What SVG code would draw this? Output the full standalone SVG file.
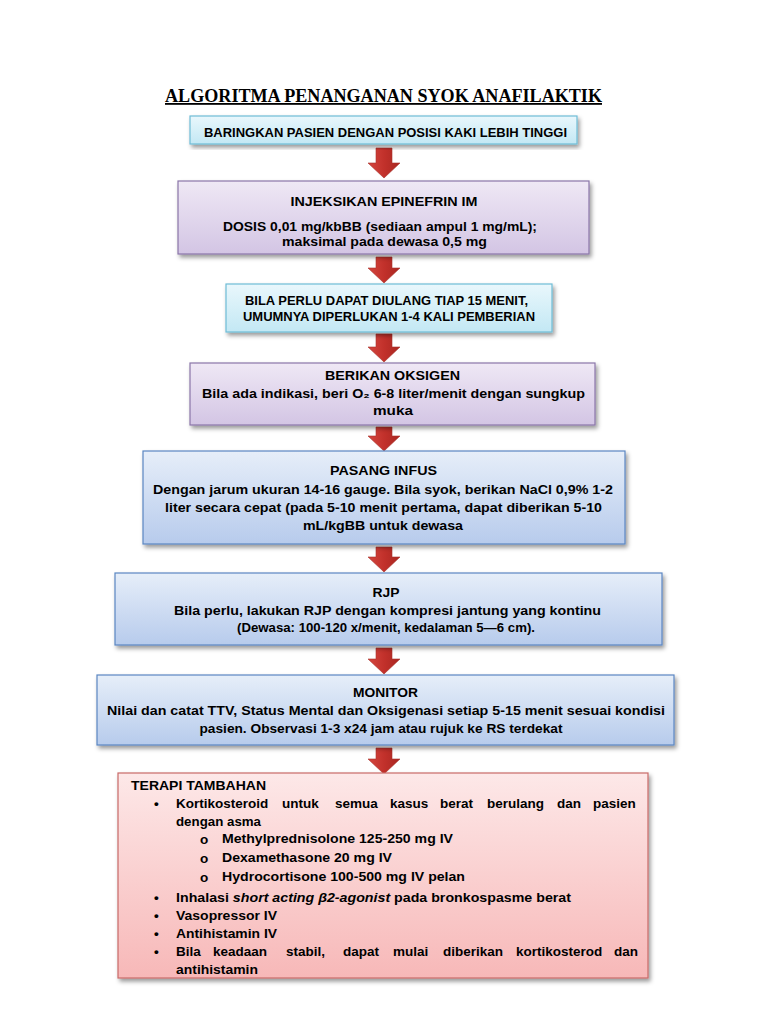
<svg xmlns="http://www.w3.org/2000/svg" width="768" height="1024" viewBox="0 0 768 1024">
<defs>
<style>
.t{font-family:"Liberation Sans",Arial,sans-serif;font-weight:bold;font-size:13.5px;fill:#000}
.c{text-anchor:middle}
.ti{font-family:"Liberation Serif","Times New Roman",serif;font-weight:bold;font-size:18px;fill:#000}
.cy{fill:url(#gCy);stroke:#6fbcd6;stroke-width:1.2}
.lv{fill:url(#gLv);stroke:#8a76a8;stroke-width:1.2}
.bl{fill:url(#gBl);stroke:#5a86c2;stroke-width:1.2}
.pk{fill:url(#gPk);stroke:#c96a68;stroke-width:1.2}
.ar{fill:url(#gAr);stroke:#a8322c;stroke-width:0.6}
</style>
<linearGradient id="gCy" x1="0" y1="0" x2="0" y2="1"><stop offset="0" stop-color="#e9f7fc"/><stop offset="1" stop-color="#c3e8f4"/></linearGradient>
<linearGradient id="gLv" x1="0" y1="0" x2="0" y2="1"><stop offset="0" stop-color="#efe8f5"/><stop offset="1" stop-color="#d3c5e4"/></linearGradient>
<linearGradient id="gBl" x1="0" y1="0" x2="0" y2="1"><stop offset="0" stop-color="#e6eef9"/><stop offset="1" stop-color="#b7cbec"/></linearGradient>
<linearGradient id="gPk" x1="0" y1="0" x2="0" y2="1"><stop offset="0" stop-color="#fde8e8"/><stop offset="1" stop-color="#f7b8b8"/></linearGradient>
<linearGradient id="gAr" x1="0" y1="0" x2="1" y2="0"><stop offset="0" stop-color="#d4463f"/><stop offset="0.5" stop-color="#c2312b"/><stop offset="1" stop-color="#a92620"/></linearGradient>
<filter id="sh" x="-5%" y="-10%" width="110%" height="130%"><feDropShadow dx="2" dy="3" stdDeviation="2" flood-color="#000" flood-opacity="0.4"/></filter>
</defs>
<rect width="768" height="1024" fill="#fff"/>

<text class="ti" x="165" y="102" textLength="437" lengthAdjust="spacingAndGlyphs" text-decoration="underline">ALGORITMA PENANGANAN SYOK ANAFILAKTIK</text>

<g id="connectors">
<path class="ar" d="M376,148 H392 V163 H400 L384,178 L368,163 H376 Z"/>
<path class="ar" d="M376,257 H392 V268 H400 L384,283 L368,268 H376 Z"/>
<path class="ar" d="M376,334 H392 V347 H400 L384,362 L368,347 H376 Z"/>
<path class="ar" d="M376,427 H392 V436 H400 L384,451 L368,436 H376 Z"/>
<path class="ar" d="M376,547 H392 V557 H400 L384,572 L368,557 H376 Z"/>
<path class="ar" d="M376,648 H392 V659 H400 L384,674 L368,659 H376 Z"/>
<path class="ar" d="M376,748 H392 V759 H400 L384,774 L368,759 H376 Z"/>
</g>

<g id="n1">
<rect class="cy" x="190" y="116" width="387" height="28" filter="url(#sh)"/>
<text class="t c" x="385.5" y="136.5" textLength="363" lengthAdjust="spacingAndGlyphs">BARINGKAN PASIEN DENGAN POSISI KAKI LEBIH TINGGI</text>
</g>

<g id="n2">
<rect class="lv" x="178" y="181" width="411" height="73" filter="url(#sh)"/>
<text class="t c" x="384" y="205.5" textLength="187" lengthAdjust="spacingAndGlyphs">INJEKSIKAN EPINEFRIN IM</text>
<text class="t c" x="380" y="230.5" textLength="314" lengthAdjust="spacingAndGlyphs">DOSIS 0,01 mg/kbBB (sediaan ampul 1 mg/mL);</text>
<text class="t c" x="384.5" y="245.5" textLength="205" lengthAdjust="spacingAndGlyphs">maksimal pada dewasa 0,5 mg</text>
</g>

<g id="n3">
<rect class="cy" x="226" y="284" width="326" height="48" filter="url(#sh)"/>
<text class="t c" x="386.5" y="304.5" textLength="283" lengthAdjust="spacingAndGlyphs">BILA PERLU DAPAT DIULANG TIAP 15 MENIT,</text>
<text class="t c" x="389" y="320.5" textLength="292" lengthAdjust="spacingAndGlyphs">UMUMNYA DIPERLUKAN 1-4 KALI PEMBERIAN</text>
</g>

<g id="n4">
<rect class="lv" x="190" y="363" width="405" height="62" filter="url(#sh)"/>
<text class="t c" x="392.5" y="379.5" textLength="135" lengthAdjust="spacingAndGlyphs">BERIKAN OKSIGEN</text>
<text class="t c" x="393.5" y="397.5" textLength="383" lengthAdjust="spacingAndGlyphs">Bila ada indikasi, beri O₂ 6-8 liter/menit dengan sungkup</text>
<text class="t c" x="393" y="414.5" textLength="40" lengthAdjust="spacingAndGlyphs">muka</text>
</g>

<g id="n5">
<rect class="bl" x="143" y="451" width="482" height="93" filter="url(#sh)"/>
<text class="t c" x="383.5" y="474.5" textLength="107" lengthAdjust="spacingAndGlyphs">PASANG INFUS</text>
<text class="t c" x="383" y="493.5" textLength="460" lengthAdjust="spacingAndGlyphs">Dengan jarum ukuran 14-16 gauge. Bila syok, berikan NaCl 0,9%  1-2</text>
<text class="t c" x="383.5" y="511.5" textLength="437" lengthAdjust="spacingAndGlyphs">liter secara cepat (pada 5-10 menit pertama, dapat diberikan 5-10</text>
<text class="t c" x="383" y="529.5" textLength="160" lengthAdjust="spacingAndGlyphs">mL/kgBB untuk dewasa</text>
</g>

<g id="n6">
<rect class="bl" x="115" y="573" width="547" height="72" filter="url(#sh)"/>
<text class="t c" x="386" y="596.5" textLength="27" lengthAdjust="spacingAndGlyphs">RJP</text>
<text class="t c" x="387.5" y="614.5" textLength="427" lengthAdjust="spacingAndGlyphs">Bila perlu, lakukan RJP dengan kompresi jantung yang kontinu</text>
<text class="t c" x="386" y="631.5" textLength="298" lengthAdjust="spacingAndGlyphs">(Dewasa: 100-120 x/menit, kedalaman 5—6 cm).</text>
</g>

<g id="n7">
<rect class="bl" x="97" y="675" width="577" height="70" filter="url(#sh)"/>
<text class="t c" x="385.5" y="696.5" textLength="65" lengthAdjust="spacingAndGlyphs">MONITOR</text>
<text class="t c" x="386" y="714.5" textLength="558" lengthAdjust="spacingAndGlyphs">Nilai dan catat TTV, Status Mental dan Oksigenasi setiap 5-15 menit sesuai kondisi</text>
<text class="t c" x="381" y="732.5" textLength="363" lengthAdjust="spacingAndGlyphs">pasien. Observasi 1-3 x24 jam atau rujuk ke RS terdekat</text>
</g>

<g id="n8">
<rect class="pk" x="118" y="773" width="530" height="205" filter="url(#sh)"/>
<text class="t" x="131" y="790" textLength="135" lengthAdjust="spacingAndGlyphs">TERAPI TAMBAHAN</text>
<text class="t" x="154" y="808">•</text>
<text class="t" y="808"><tspan x="176">Kortikosteroid</tspan><tspan x="282">untuk</tspan><tspan x="335">semua</tspan><tspan x="390">kasus</tspan><tspan x="440">berat</tspan><tspan x="487">berulang</tspan><tspan x="557">dan</tspan><tspan x="593">pasien</tspan></text>
<text class="t" x="176" y="825.5" textLength="85" lengthAdjust="spacingAndGlyphs">dengan asma</text>
<text class="t" x="200" y="844" font-size="10.5">o</text>
<text class="t" x="222" y="843" textLength="231" lengthAdjust="spacingAndGlyphs">Methylprednisolone 125-250 mg IV</text>
<text class="t" x="200" y="863" font-size="10.5">o</text>
<text class="t" x="222" y="862" textLength="170" lengthAdjust="spacingAndGlyphs">Dexamethasone 20 mg IV</text>
<text class="t" x="200" y="882" font-size="10.5">o</text>
<text class="t" x="222" y="881" textLength="243" lengthAdjust="spacingAndGlyphs">Hydrocortisone 100-500 mg IV pelan</text>
<text class="t" x="154" y="902">•</text>
<text class="t" x="176" y="902" textLength="395" lengthAdjust="spacingAndGlyphs">Inhalasi <tspan font-style="italic">short acting β2-agonist</tspan> pada bronkospasme berat</text>
<text class="t" x="154" y="920">•</text>
<text class="t" x="176" y="920" textLength="101" lengthAdjust="spacingAndGlyphs">Vasopressor IV</text>
<text class="t" x="154" y="938">•</text>
<text class="t" x="176" y="938" textLength="101" lengthAdjust="spacingAndGlyphs">Antihistamin IV</text>
<text class="t" x="154" y="956">•</text>
<text class="t" y="956"><tspan x="176">Bila</tspan><tspan x="213">keadaan</tspan><tspan x="286">stabil,</tspan><tspan x="343">dapat</tspan><tspan x="393">mulai</tspan><tspan x="443">diberikan</tspan><tspan x="516">kortikosterod</tspan><tspan x="614">dan</tspan></text>
<text class="t" x="176" y="974" textLength="82" lengthAdjust="spacingAndGlyphs">antihistamin</text>
</g>
</svg>
